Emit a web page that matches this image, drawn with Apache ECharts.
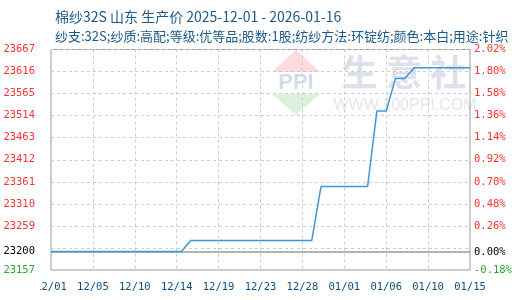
<!DOCTYPE html>
<html><head><meta charset="utf-8">
<script src="https://cdn.jsdelivr.net/npm/echarts@6/dist/echarts.min.js"></script>
<style>html,body{margin:0;padding:0;background:#fff}#c{width:520px;height:300px}</style>
</head><body><div id="c"></div>
<script>
var titleText = '棉纱32S 山东 生产价 2025-12-01 - 2026-01-16';
var subText = '纱支:32S;纱质:高配;等级:优等品;股数:1股;纺纱方法:环锭纺;颜色:本白;用途:针织';
var dates = ['2025-12-01','2025-12-02','2025-12-03','2025-12-04','2025-12-05','2025-12-06','2025-12-07','2025-12-08','2025-12-09','2025-12-10',
 '2025-12-11','2025-12-12','2025-12-13','2025-12-14','2025-12-15','2025-12-16','2025-12-17','2025-12-18','2025-12-19','2025-12-20',
 '2025-12-21','2025-12-22','2025-12-23','2025-12-24','2025-12-25','2025-12-26','2025-12-27','2025-12-28','2025-12-29','2025-12-30',
 '2025-12-31','2026-01-01','2026-01-02','2026-01-03','2026-01-04','2026-01-05','2026-01-06','2026-01-07','2026-01-08','2026-01-09',
 '2026-01-10','2026-01-11','2026-01-12','2026-01-13','2026-01-14','2026-01-15'];
var prices = [23200,23200,23200,23200,23200,23200,23200,23200,23200,23200,
 23200,23200,23200,23200,23200,23225,23225,23225,23225,23225,
 23225,23225,23225,23225,23225,23225,23225,23225,23225,23350,
 23350,23350,23350,23350,23350,23525,23525,23600,23600,23625,
 23625,23625,23625,23625,23625,23625];
var basePrice = 23200;
var xTickLabels = ['12/01','12/05','12/10','12/14','12/19','12/23','12/28','01/01','01/06','01/10','01/15'];
var leftGridValues = [23157,23208,23259,23310,23361,23412,23463,23514,23565,23616,23667];
var leftLabelValues = [23157,23200,23259,23310,23361,23412,23463,23514,23565,23616,23667];
var rightLabelValues = [-0.18,0.00,0.26,0.48,0.70,0.92,1.14,1.36,1.58,1.80,2.02];

var DAY = 86400000;
var t0 = Date.parse(dates[0]);
var lineData = dates.map(function(d,i){ return [Math.round((Date.parse(d)-t0)/DAY), prices[i]]; });
var xMax = Math.round((Date.parse('2026-01-15')-t0)/DAY);
var xStep = xMax/(xTickLabels.length-1);

var mono = 'DejaVu Sans Mono';
function lblColor(v){ return v < 0 || v === leftLabelValues[0] ? '#2ea52e' : (v === 0 || v === basePrice ? '#000000' : '#ff3030'); }

var chart = echarts.init(document.getElementById('c'), null, {renderer:'canvas'});
chart.setOption({
  animation:false,
  backgroundColor:'#ffffff',
  title:{text:titleText, subtext:subText, left:50, top:5, itemGap:6,
    textStyle:{fontFamily:'Noto Sans CJK SC', fontSize:14, fontWeight:'normal', color:'#1b5a8a'},
    subtextStyle:{fontFamily:'Noto Sans CJK SC', fontSize:13, color:'#1b5a8a'}},
  graphic:[
    {type:'polygon', z:-10, shape:{points:[[272,72],[296,50],[320,72]]}, style:{fill:'#fbdcdc'}},
    {type:'polygon', z:-10, shape:{points:[[272,94],[320,94],[296,115]]}, style:{fill:'#dcf0dc'}},
    {type:'text', z:-10, x:296, y:83, style:{text:'PPI', fontSize:22, fontWeight:'bold', fontFamily:'Liberation Sans', fill:'#d4dbea', align:'center', verticalAlign:'middle'}},
    {type:'text', z:-10, x:404, y:72, style:{text:'生 意 社', fontSize:36, fontWeight:'bold', fontFamily:'Noto Sans CJK SC', fill:'#dde1eb', align:'center', verticalAlign:'middle'}},
    {type:'text', z:-10, x:405, y:106, style:{text:'WWW.100PPI.COM', fontSize:16, fontFamily:'Liberation Sans', fill:'#e6e6e6', align:'center', verticalAlign:'middle'}},
    {type:'rect', z:100, shape:{x:0,y:278,width:40,height:22}, style:{fill:'#ffffff'}}
  ],
  grid:{left:51, right:50, top:49.5, bottom:30, show:true, borderColor:'#999999', borderWidth:1, backgroundColor:'transparent'},
  xAxis:{type:'value', min:0, max:xMax, interval:xStep,
    axisLine:{show:false}, axisTick:{show:false},
    splitLine:{show:true, lineStyle:{color:'#cccccc', type:[3,3], width:1}},
    axisLabel:{margin:12, fontFamily:mono, fontSize:10.5, color:'#0e4f80',
      formatter:function(v){ return xTickLabels[Math.round(v/xStep)] || ''; }}},
  yAxis:[
    {type:'value', min:leftGridValues[0], max:leftGridValues[leftGridValues.length-1], position:'left',
      axisLine:{show:false},
      axisTick:{show:false, customValues:leftGridValues},
      splitLine:{show:true, lineStyle:{color:'#cccccc', type:[3,3], width:1}},
      axisLabel:{customValues:leftLabelValues, margin:16, fontFamily:mono, fontSize:10.5,
        color:function(v){ return lblColor(Number(v)); },
        formatter:function(v){ return String(Math.round(v)); }}},
    {type:'value', min:rightLabelValues[0], max:rightLabelValues[rightLabelValues.length-1], position:'right',
      axisLine:{show:false}, splitLine:{show:false},
      axisTick:{show:false, customValues:rightLabelValues},
      axisLabel:{customValues:rightLabelValues, margin:4, fontFamily:mono, fontSize:10.5,
        color:function(v){ return lblColor(Number(v)); },
        formatter:function(v){ return Number(v).toFixed(2)+'%'; }}}
  ],
  series:[
    {type:'line', yAxisIndex:0, data:[], z:1, silent:true,
      markLine:{silent:true, symbol:'none', label:{show:false},
        lineStyle:{color:'#999999', type:'solid', width:1.5},
        data:[{yAxis:basePrice}]}},
    {type:'line', yAxisIndex:0, data:lineData, showSymbol:false, symbol:'none',
      lineStyle:{color:'#3d98d8', width:1.5}, z:5}
  ]
});
</script></body></html>
